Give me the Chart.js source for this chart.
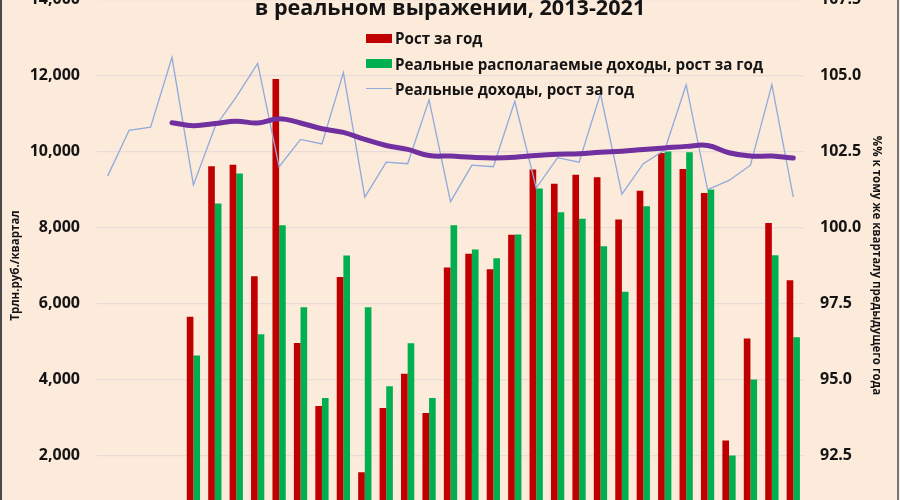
<!DOCTYPE html>
<html lang="ru">
<head>
<meta charset="utf-8">
<script src="https://cdn.jsdelivr.net/npm/chart.js@4.4.0/dist/chart.umd.min.js"></script>
<style>
html,body{margin:0;padding:0;width:900px;height:500px;overflow:hidden;background:#FCEADB;}
#wrap{position:absolute;left:0;top:0;width:900px;height:560px;}
#title{position:absolute;left:0;top:-5px;width:900px;text-align:center;font:bold 21.6px "Open Sans",sans-serif;line-height:24px;color:#141414;white-space:nowrap;}
.lg{position:absolute;left:395px;font:bold 15.2px "Open Sans",sans-serif;line-height:20px;color:#141414;white-space:nowrap;}
.sw{position:absolute;left:366px;width:26px;}
.frame{position:absolute;top:0;width:2px;height:500px;background:#4a4a4a;}
</style>
</head>
<body>
<div id="wrap"><canvas id="c" width="900" height="560" style="width:900px;height:560px"></canvas></div>
<div id="title">в реальном выражении, 2013-2021</div>
<div id="legend"></div>
<div class="frame" style="left:0"></div>
<div class="frame" style="left:897px;width:1.5px;background:#777"></div>
<script>
// ---- data ----
const quarters = [
 "I кв 2013","II кв 2013","III кв 2013","IV кв 2013",
 "I кв 2014","II кв 2014","III кв 2014","IV кв 2014",
 "I кв 2015","II кв 2015","III кв 2015","IV кв 2015",
 "I кв 2016","II кв 2016","III кв 2016","IV кв 2016",
 "I кв 2017","II кв 2017","III кв 2017","IV кв 2017",
 "I кв 2018","II кв 2018","III кв 2018","IV кв 2018",
 "I кв 2019","II кв 2019","III кв 2019","IV кв 2019",
 "I кв 2020","II кв 2020","III кв 2020","IV кв 2020",
 "I кв 2021"
];
const growthYear = [null,null,null,null,
 5650,9610,9650,6720,11910,4960,3300,6700,1560,3250,4150,3120,
 6950,7310,6900,7810,9530,9150,9390,9320,8210,8970,9960,9540,
 8910,2390,5080,8120,6610];
const disposableIncomeGrowth = [null,null,null,null,
 4630,8630,9420,5190,8060,5900,3510,7260,5900,3820,4950,3510,
 8060,7420,7190,7815,9030,8400,8230,7510,6310,8560,10000,9980,
 9000,2000,4000,7270,5110];
const realIncomeGrowth = [
 101.7,103.2,103.3,105.6,101.4,103.3,104.3,105.4,102.0,102.9,102.75,105.1,
 101.0,102.15,102.1,104.2,100.85,102.05,102.0,104.15,101.3,102.3,102.15,104.4,
 101.1,102.1,102.55,104.7,101.25,101.55,102.05,104.7,101.0];
const realIncomeTrend = [null,null,null,
 103.45,103.35,103.42,103.5,103.44,103.58,103.44,103.25,103.13,102.9,102.7,102.57,
 102.37,102.35,102.31,102.29,102.31,102.37,102.41,102.43,102.48,102.51,102.57,102.62,
 102.67,102.7,102.46,102.35,102.35,102.29];
const legendLabels = ["Рост за год","Реальные располагаемые доходы, рост за год","Реальные доходы, рост за год"];
const leftAxisTitle = "Трлн.руб./квартал";
const rightAxisTitle = "%% к тому же кварталу предыдущего года";

const RED = "#C00000", GREEN = "#00B050", BLUE = "#8FAADC", PURPLE = "#7030A0";
const FONT = "'Open Sans', sans-serif";

const config = {
  type: "bar",
  data: {
    labels: quarters,
    datasets: [
      {type:"line", label:"trend", data: realIncomeTrend, yAxisID:"y1", borderColor:PURPLE, borderWidth:5,
        pointRadius:0, tension:0.4, borderCapStyle:"round", order:1},
      {type:"line", label: legendLabels[2], data: realIncomeGrowth, yAxisID:"y1", borderColor:BLUE, borderWidth:1.3,
        pointRadius:0, tension:0, order:2},
      {label: legendLabels[0], data: growthYear, yAxisID:"y", backgroundColor:RED,
        categoryPercentage:0.62, barPercentage:1, order:3},
      {label: legendLabels[1], data: disposableIncomeGrowth, yAxisID:"y", backgroundColor:GREEN,
        categoryPercentage:0.62, barPercentage:1, order:3}
    ]
  },
  options: {
    responsive:false, maintainAspectRatio:false, animation:false,
    layout:{padding:0},
    plugins:{legend:{display:false}, tooltip:{enabled:false}, title:{display:false}},
    scales:{
      x:{display:false, offset:true},
      y:{position:"left", min:0, max:14000,
        ticks:{stepSize:2000, padding:17, color:"#141414", font:{family:FONT, size:16, weight:"bold"},
          callback:v=>v.toLocaleString("en-US")},
        grid:{color:"#E8DCD6", lineWidth:1.2, drawTicks:false},
        border:{display:false},
        title:{display:true, text:leftAxisTitle, color:"#141414", font:{family:FONT, size:11.5, weight:"bold"}, padding:{top:8.5,bottom:0}},
        afterFit:s=>{s.width=97;}
      },
      y1:{position:"right", min:90, max:107.5,
        ticks:{stepSize:2.5, padding:16, color:"#141414", font:{family:FONT, size:16, weight:"bold"},
          callback:v=>v.toFixed(1)},
        grid:{display:false, drawTicks:false},
        border:{display:false},
        title:{display:true, text:rightAxisTitle, color:"#141414", font:{family:FONT, size:11.5, weight:"bold"}, padding:{top:16.5,bottom:0}},
        afterFit:s=>{s.width=96;}
      }
    }
  }
};

const chart = new Chart(document.getElementById("c"), config);
(function fit(){
  const ca = chart.chartArea;
  const h = Math.round(chart.height + (532 - (ca.bottom - ca.top)));
  const wrap = document.getElementById("wrap");
  wrap.style.height = h + "px";
  chart.resize(900, h);
  wrap.style.top = (-chart.chartArea.top) + "px";
})();

// legend (HTML, built from dataset styles)
(function(){
  const lg = document.getElementById("legend");
  const rows = [
    {text:legendLabels[0], color:RED, kind:"box"},
    {text:legendLabels[1], color:GREEN, kind:"box"},
    {text:legendLabels[2], color:BLUE, kind:"line"}
  ];
  rows.forEach((r,i)=>{
    const cy = 38.3 + i*25;
    const sw = document.createElement("div");
    sw.className = "sw";
    if (r.kind==="box"){ sw.style.top=(cy-4.5)+"px"; sw.style.height="9px"; }
    else { sw.style.top=(cy-0.75)+"px"; sw.style.height="1.5px"; }
    sw.style.background = r.color;
    lg.appendChild(sw);
    const t = document.createElement("div");
    t.className = "lg";
    t.style.top = (28.2 + i*25.5) + "px";
    t.textContent = r.text;
    lg.appendChild(t);
  });
})();
</script>
</body>
</html>
